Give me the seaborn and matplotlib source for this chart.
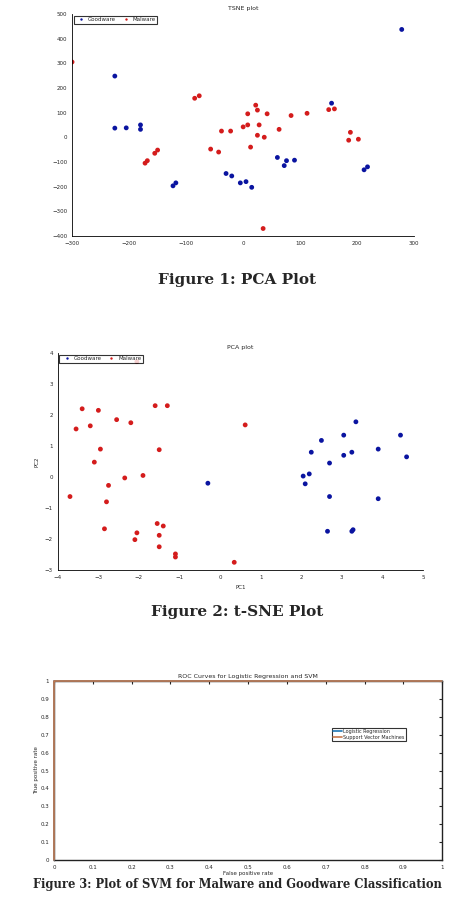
import matplotlib
matplotlib.use("Agg")
import matplotlib.pyplot as plt
import seaborn as sns
import pandas as pd

sns.set_theme(style="white")
plt.rcParams['font.family'] = ['DejaVu Sans']

tsne_good_x = [-225, -225, -205, -180, -180, -123, -118, -30, -20, -5, 5, 15, 60, 72, 76, 90, 155, 212, 218, 278]
tsne_good_y = [248, 37, 38, 50, 32, -197, -185, -147, -157, -185, -180, -203, -82, -115, -95, -93, 138, -132, -120, 437]
tsne_mal_x = [-300, -172, -168, -155, -150, -85, -77, -57, -43, -38, -22, 0, 8, 8, 13, 22, 25, 25, 28, 37, 42, 35, 63, 84, 112, 150, 160, 185, 188, 202]
tsne_mal_y = [305, -105, -95, -65, -52, 158, 168, -48, -60, 25, 25, 42, 50, 95, -40, 130, 110, 8, 50, 0, 95, -370, 32, 88, 97, 112, 115, -12, 20, -8]

pca_good_x = [-0.3, 2.05, 2.2, 2.1, 2.25, 2.5, 2.7, 2.7, 3.05, 3.05, 3.25, 3.35, 3.9, 3.9, 4.45, 4.6, 2.65, 3.25, 3.28]
pca_good_y = [-0.2, 0.03, 0.1, -0.22, 0.8, 1.18, 0.45, -0.63, 0.7, 1.35, 0.8, 1.78, 0.9, -0.7, 1.35, 0.65, -1.75, -1.75, -1.7]
pca_mal_x = [-2.05, -3.4, -3.0, -3.55, -3.2, -2.55, -2.2, -1.6, -1.3, -2.95, -1.5, -3.1, -2.35, -1.9, -2.75, -3.7, -2.8, -2.85, -2.05, -2.1, -1.55, -1.4, -1.5, -1.5, -1.1, -1.1, 0.62, 0.35]
pca_mal_y = [3.72, 2.2, 2.15, 1.55, 1.65, 1.85, 1.75, 2.3, 2.3, 0.9, 0.88, 0.48, -0.03, 0.05, -0.27, -0.63, -0.8, -1.67, -1.8, -2.02, -1.5, -1.58, -1.88, -2.25, -2.48, -2.58, 1.68, -2.75]

roc_fpr = [0, 0, 1]
roc_tpr = [0, 1, 1]

classes = ["Goodware", "Malware"]
colors = {"Goodware": "#0a14a0", "Malware": "#d41c1c"}

fig = plt.figure(figsize=(4.74, 8.97), dpi=100)
fs = 4

def scatter_panel(rect, gx, gy, mx, my, title, xlim, ylim, xticks, yticks, xlabel=None, ylabel=None):
    ax = fig.add_axes(rect)
    df = pd.DataFrame({"x": gx + mx, "y": gy + my,
                       "cls": [classes[0]] * len(gx) + [classes[1]] * len(mx)})
    sns.scatterplot(data=df, x="x", y="y", hue="cls", palette=colors, s=12,
                    edgecolor="none", ax=ax)
    ax.set_xlim(*xlim); ax.set_ylim(*ylim)
    ax.set_xticks(xticks); ax.set_yticks(yticks)
    ax.tick_params(direction="in", length=2, labelsize=fs, width=0.6)
    for s in ["top", "right"]:
        ax.spines[s].set_visible(False)
    for s in ["left", "bottom"]:
        ax.spines[s].set_color("black"); ax.spines[s].set_linewidth(0.6)
    ax.set_title(title, fontsize=fs + 0.5, pad=3)
    ax.set_xlabel(xlabel or "", fontsize=fs)
    ax.set_ylabel(ylabel or "", fontsize=fs)
    leg = ax.legend(loc="upper left", ncol=2, fontsize=fs, markerscale=0.5,
                    frameon=True, fancybox=False, borderpad=0.3, handletextpad=0.2,
                    columnspacing=0.8, borderaxespad=0.3)
    leg.get_frame().set_edgecolor("black"); leg.get_frame().set_linewidth(0.8)
    return ax

scatter_panel([0.152, 0.737, 0.722, 0.2475], tsne_good_x, tsne_good_y, tsne_mal_x, tsne_mal_y,
              "TSNE plot", (-300, 300), (-400, 500), range(-300, 301, 100), range(-400, 501, 100))
fig.text(0.5, 0.688, "Figure 1: PCA Plot", ha="center", va="center",
         fontsize=11, fontweight="bold", family="DejaVu Serif")

scatter_panel([0.122, 0.3645, 0.770, 0.242], pca_good_x, pca_good_y, pca_mal_x, pca_mal_y,
              "PCA plot", (-4, 5), (-3, 4), range(-4, 6), range(-3, 5), "PC1", "PC2")
fig.text(0.5, 0.318, "Figure 2: t-SNE Plot", ha="center", va="center",
         fontsize=11, fontweight="bold", family="DejaVu Serif")

ax = fig.add_axes([0.114, 0.0412, 0.819, 0.1996])
sns.lineplot(x=roc_fpr, y=roc_tpr, ax=ax, color="#1f77b4", lw=1.2, label="Logistic Regression",
             sort=False, estimator=None, zorder=5, clip_on=False)
sns.lineplot(x=roc_fpr, y=roc_tpr, ax=ax, color="#c8784a", lw=1.2, label="Support Vector Machines",
             sort=False, estimator=None, zorder=6, clip_on=False)
ax.set_xlim(0, 1); ax.set_ylim(0, 1)
ax.set_xticks([i / 10 for i in range(11)]); ax.set_yticks([i / 10 for i in range(11)])
ax.set_xticklabels(["0"] + [f"{i/10:g}" for i in range(1, 10)] + ["1"])
ax.set_yticklabels(["0"] + [f"{i/10:g}" for i in range(1, 10)] + ["1"])
ax.tick_params(direction="in", length=2.5, labelsize=fs, width=0.8, top=True, right=True,
               labeltop=False, labelright=False)
for s in ax.spines.values():
    s.set_visible(True); s.set_color("#222222"); s.set_linewidth(1.0)
ax.set_title("ROC Curves for Logistic Regression and SVM", fontsize=fs + 0.5, pad=2)
ax.set_xlabel("False positive rate", fontsize=fs, labelpad=1)
ax.set_ylabel("True positive rate", fontsize=fs, labelpad=1)
leg = ax.legend(loc="upper left", bbox_to_anchor=(0.71, 0.75), fontsize=3.5, frameon=True,
                fancybox=False, borderpad=0.2, handlelength=1.8, handletextpad=0.3, labelspacing=0.2)
leg.get_frame().set_edgecolor("black"); leg.get_frame().set_linewidth(0.8)
fig.text(0.5, 0.0134, "Figure 3: Plot of SVM for Malware and Goodware Classification",
         ha="center", va="center", fontsize=8.3, fontweight="bold", family="DejaVu Serif")

fig.savefig("out.png", dpi=100)
